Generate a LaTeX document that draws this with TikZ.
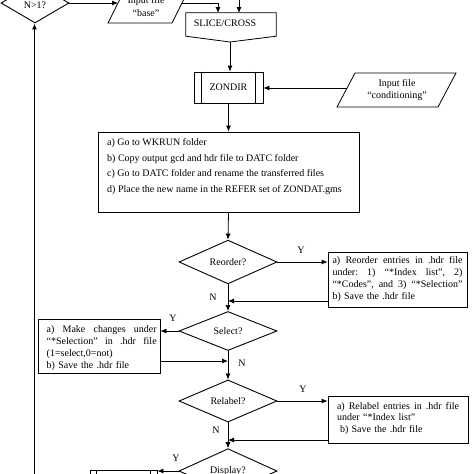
\documentclass[tikz,border=0pt]{standalone}
\usepackage{fontspec}
\setmainfont{Liberation Serif}
\usetikzlibrary{shapes.geometric,arrows.meta}
\newcommand{\jline}[2]{\makebox[#1][l]{#2}}
\begin{document}
\begin{tikzpicture}[x=1pt,y=-1pt,
  every node/.style={font=\fontsize{10}{12}\selectfont},
  ln/.style={line width=0.8pt},
  arr/.style={line width=0.8pt,-{Latex[length=6pt,width=5pt]}},
  dia/.style={diamond,draw,line width=0.9pt,inner sep=0pt,minimum width=98pt,minimum height=40pt},
  boxed/.style={draw,line width=0.8pt,inner sep=0pt},
  lbl/.style={inner sep=0pt}]
\useasboundingbox (0,0) rectangle (474,474);
\clip (0,0) rectangle (474,474);

% N>1? decision
\node[dia,minimum width=68pt,minimum height=40pt] (nq) at (35,3) {};
\node[lbl] (nqt) at (35,5) {N>1?};

% Input file "base"
\draw[ln] (108,23) -- (172,23) -- (188.5,-10) -- (124.5,-10) -- cycle;
\node[lbl,align=center,font=\fontsize{10}{13}\selectfont] (base) at (146,6.5) {Input file\\“base”};
\coordinate (baseL) at (118,3);
\coordinate (baseR) at (182,3);

% SLICE/CROSS
\node[inner sep=0pt,minimum width=90pt,minimum height=23pt] (slice) at (231,24.5) {};
\draw[ln] (slice.south west) -- (slice.north west) -- (slice.north east) -- (slice.south east) -- (230,42) -- cycle;
\coordinate (sliceb) at (230,42);
\node[lbl] (slicet) at (225,23.5) {SLICE/CROSS};
\coordinate (sin1) at (218,13);
\coordinate (sin2) at (239,13);
\coordinate (topin) at (239,-6);

% ZONDIR
\node[boxed,minimum width=69pt,minimum height=31pt] (zon) at (228.5,87.5) {ZONDIR};
\draw[ln] ([xshift=8pt]zon.north west) -- ([xshift=8pt]zon.south west);
\draw[ln] ([xshift=-8pt]zon.north east) -- ([xshift=-8pt]zon.south east);

% Input file "conditioning"
\draw[ln] (337,107) -- (438,107) -- (456,73) -- (355,73) -- cycle;
\node[lbl,align=center] (cond) at (397,90) {Input file\\“conditioning”};
\coordinate (condL) at (347,88);

% big box
\node[boxed,minimum width=261pt,minimum height=80pt] (big) at (228.5,172) {};
\node[lbl,align=left,anchor=north west,font=\fontsize{10}{15.6}\selectfont] (bigt) at (107,138.5) {a) Go to WKRUN folder\\b) Copy output gcd and hdr file to DATC folder\\c) Go to DATC folder and rename the transferred files\\d) Place the new name in the REFER set of ZONDAT.gms};

% Reorder
\node[dia,minimum height=39pt] (reo) at (228,262) {Reorder?};
\node[boxed,inner xsep=4.5pt,text width=130pt,minimum height=55pt,align=left] (reob) at (397.5,279.5)
 {\jline{130pt}{a)\hfill Reorder\hfill entries\hfill in\hfill .hdr\hfill file}\\\jline{130pt}{under:\hfill 1)\hfill “*Index\hfill list”,\hfill 2)}\\\jline{130pt}{“*Codes”,\hfill and\hfill 3)\hfill “*Selection”}\\b) Save the .hdr file};
\coordinate (r1) at (328,301);
\node[lbl] (y1) at (301,250) {Y};
\node[lbl] (n1) at (213,297) {N};

% Select
\node[dia,minimum height=39pt] (sel) at (228,331) {Select?};
\node[boxed,minimum width=122pt,minimum height=54pt] (selb) at (99,346) {};
\node[lbl,text width=110pt,align=left] (selt) at (101.7,348)
 {\jline{110pt}{a)\hfill Make\hfill changes\hfill under}\\\jline{110pt}{“*Selection”\hfill in\hfill .hdr\hfill file}\\(1=select,0=not)\\b) Save the .hdr file};
\coordinate (s1) at (160,361);
\node[lbl] (y2) at (173,318) {Y};
\node[lbl] (n2) at (242,363) {N};

% Relabel
\node[dia] (rel) at (228,401) {Relabel?};
\node[boxed,minimum width=140pt,minimum height=47pt] (relb) at (398,419.5) {};
\node[lbl,text width=122pt,align=left,font=\fontsize{10}{11.5}\selectfont] (relt) at (398,418.5)
 {\jline{122pt}{a)\hfill Relabel\hfill entries\hfill in\hfill .hdr\hfill file}\\under “*Index list”\\\hspace*{3pt}b) Save the .hdr file};
\coordinate (r2) at (328,440);
\node[lbl] (y3) at (303,389) {Y};
\node[lbl] (n3) at (216,430) {N};

% Display
\node[dia,minimum height=42pt] (dis) at (228,471) {Display?};
\node[boxed,minimum width=67pt,minimum height=40pt] (disb) at (123.5,490) {};
\draw[ln] ([xshift=7pt]disb.north west) -- ([xshift=7pt]disb.south west);
\draw[ln] ([xshift=-7pt]disb.north east) -- ([xshift=-7pt]disb.south east);
\node[lbl] (y4) at (176,458) {Y};

% left loop line
\coordinate (lb) at (34.5,490);

% connectors
\draw[arr] (nq.east) -- (baseL);
\draw[ln] (baseR) -- (baseR -| sin1);
\draw[arr] (baseR -| sin1) -- (sin1);
\draw[arr] (topin) -- (sin2);
\draw[arr] (sliceb) -- (sliceb |- zon.north);
\draw[arr] (condL) -- (condL -| zon.east);
\draw[arr] (zon.south) -- (zon.south |- big.north);
\draw[arr] (big.south) -- (reo.north);
\draw[arr] (reo.east) -- (reo.east -| reob.west);
\draw[arr] (r1) -- (r1 -| reo.south);
\draw[arr] (reo.south) -- (sel.north);
\draw[arr] (sel.west) -- (sel.west -| selb.east);
\draw[arr] (s1) -- (s1 -| sel.south);
\draw[arr] (sel.south) -- (rel.north);
\draw[arr] (rel.east) -- (rel.east -| relb.west);
\draw[arr] (r2) -- (r2 -| rel.south);
\draw[arr] (rel.south) -- (dis.north);
\draw[arr] (dis.west) -- (dis.west -| disb.east);
\draw[line width=1.2pt,-{Latex[length=6pt,width=5pt]}] (lb) -- (lb |- nq.south);
\end{tikzpicture}
\end{document}
